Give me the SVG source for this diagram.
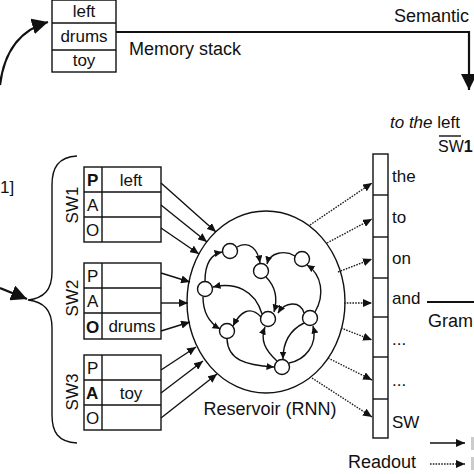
<svg xmlns="http://www.w3.org/2000/svg" width="474" height="474" viewBox="0 0 474 474">
<style>
text{font-family:"Liberation Sans","Open Sans",sans-serif;fill:#111}
.b{fill:none;stroke:#111;stroke-width:1.4}
.ln{fill:none;stroke:#111;stroke-width:1.4}
.big{fill:none;stroke:#111;stroke-width:2.2}
.dot{fill:none;stroke:#222;stroke-width:1.4;stroke-dasharray:1.6 1.2}
.n{fill:#fff;stroke:#111;stroke-width:1.4}
.t16{font-size:17px}
.t17{font-size:18px}
</style>
<defs>
<marker id="ah" markerUnits="userSpaceOnUse" markerWidth="10" markerHeight="8" refX="9" refY="4" orient="auto"><path d="M0,0 L9,4 L0,8 Z" fill="#111"/></marker>
<marker id="as" markerUnits="userSpaceOnUse" markerWidth="8" markerHeight="7" refX="7.5" refY="3.5" orient="auto"><path d="M0,0 L7.5,3.5 L0,7 Z" fill="#111"/></marker>
<marker id="abig" markerUnits="userSpaceOnUse" markerWidth="18" markerHeight="16" refX="16" refY="8" orient="auto"><path d="M0,0 L16,8 L0,16 Z" fill="#111"/></marker>
</defs>

<g id="memory-stack">
<rect class="b" x="52" y="-10" width="64" height="82"/>
<line class="b" x1="52" y1="0" x2="116" y2="0"/>
<line class="b" x1="52" y1="23" x2="116" y2="23"/>
<line class="b" x1="52" y1="50" x2="116" y2="50"/>
<text class="t16" x="84" y="17" text-anchor="middle">left</text>
<text class="t16" x="84" y="42" text-anchor="middle">drums</text>
<text class="t16" x="84" y="66" text-anchor="middle">toy</text>
<text class="t17" x="129" y="55">Memory stack</text>
</g>

<g id="semantic">
<text class="t17" x="394" y="22">Semantic</text>
<text class="t16" x="390" y="128"><tspan font-style="italic">to the</tspan> left</text>
<text x="438" y="152" font-size="16">SW<tspan font-weight="bold">1</tspan></text>
<line class="ln" x1="439" y1="136" x2="461" y2="136" stroke-width="1"/>
</g>

<g id="ref-text">
<text class="t16" x="0" y="193">1]</text>
</g>

<g id="brace">
<path class="ln" d="M77,156 C58,157 52,168 52,185 L52,272 C52,290 44,298 28,300 C44,302 52,310 52,328 L52,415 C52,432 58,442 77,443"/>
</g>

<g id="sw1">
<rect class="b" x="84" y="167" width="77" height="75"/>
<line class="b" x1="102" y1="167" x2="102" y2="242"/>
<line class="b" x1="84" y1="192" x2="161" y2="192"/>
<line class="b" x1="84" y1="217" x2="161" y2="217"/>
<text class="t16" x="87" y="186" font-weight="bold">P</text>
<text class="t16" x="87" y="211">A</text>
<text class="t16" x="86" y="236">O</text>
<text class="t16" x="131" y="186" text-anchor="middle">left</text>
<text class="t16" transform="translate(78,205) rotate(-90)" text-anchor="middle">SW1</text>
</g>

<g id="sw2">
<rect class="b" x="84" y="263" width="77" height="76"/>
<line class="b" x1="102" y1="263" x2="102" y2="339"/>
<line class="b" x1="84" y1="288" x2="161" y2="288"/>
<line class="b" x1="84" y1="313" x2="161" y2="313"/>
<text class="t16" x="87" y="282">P</text>
<text class="t16" x="87" y="307">A</text>
<text class="t16" x="86" y="333" font-weight="bold">O</text>
<text class="t16" x="132" y="332" text-anchor="middle">drums</text>
<text class="t16" transform="translate(78,298) rotate(-90)" text-anchor="middle">SW2</text>
</g>

<g id="sw3">
<rect class="b" x="84" y="355" width="77" height="75"/>
<line class="b" x1="102" y1="355" x2="102" y2="430"/>
<line class="b" x1="84" y1="380" x2="161" y2="380"/>
<line class="b" x1="84" y1="405" x2="161" y2="405"/>
<text class="t16" x="87" y="374">P</text>
<text class="t16" x="86" y="399" font-weight="bold">A</text>
<text class="t16" x="86" y="424">O</text>
<text class="t16" x="131" y="399" text-anchor="middle">toy</text>
<text class="t16" transform="translate(78,392) rotate(-90)" text-anchor="middle">SW3</text>
</g>

<g id="reservoir">
<ellipse class="b" cx="266" cy="302" rx="79" ry="91"/>
<text class="t17" x="270" y="415" text-anchor="middle">Reservoir (RNN)</text>
<circle class="n" cx="230" cy="251" r="7.5"/>
<circle class="n" cx="261" cy="271" r="7.5"/>
<circle class="n" cx="302" cy="259" r="7.5"/>
<circle class="n" cx="205" cy="289" r="7.5"/>
<circle class="n" cx="268" cy="319" r="7.5"/>
<circle class="n" cx="310" cy="318" r="7.5"/>
<circle class="n" cx="227" cy="331" r="7.5"/>
<circle class="n" cx="282" cy="367" r="7.5"/>
</g>

<g id="readout">
<rect class="b" x="373" y="154" width="15" height="284"/>
<line class="b" x1="373" y1="195" x2="388" y2="195"/>
<line class="b" x1="373" y1="237" x2="388" y2="237"/>
<line class="b" x1="373" y1="278" x2="388" y2="278"/>
<line class="b" x1="373" y1="317" x2="388" y2="317"/>
<line class="b" x1="373" y1="357" x2="388" y2="357"/>
<line class="b" x1="373" y1="399" x2="388" y2="399"/>
<text class="t16" x="392" y="182">the</text>
<text class="t16" x="392" y="223">to</text>
<text class="t16" x="392" y="264">on</text>
<text class="t16" x="392" y="304">and</text>
<text class="t16" x="392" y="345">...</text>
<text class="t16" x="392" y="386">...</text>
<text class="t16" x="392" y="428">SW</text>
<text class="t17" x="428" y="327">Gram</text>
<text class="t17" x="348" y="468">Readout</text>
</g>

<g id="legend">
<rect x="471" y="437" width="6" height="13" fill="#ccc"/>
<rect x="471" y="457" width="6" height="13" fill="#ccc"/>
</g>

<g id="connectors">
<path class="big" d="M116,32 L469,32 L469,90" marker-end="url(#abig)"/>
<path class="big" d="M0,85 C4,52 20,30 48,22" marker-end="url(#abig)"/>
<path class="big" d="M0,288 L27,299" marker-end="url(#abig)"/>
<line class="big" x1="427" y1="302" x2="474" y2="302"/>

<line class="ln" x1="161" y1="183" x2="216" y2="232" marker-end="url(#ah)"/>
<line class="ln" x1="161" y1="205" x2="207" y2="242" marker-end="url(#ah)"/>
<line class="ln" x1="161" y1="228" x2="199" y2="254" marker-end="url(#ah)"/>
<line class="ln" x1="161" y1="273" x2="190" y2="282" marker-end="url(#ah)"/>
<line class="ln" x1="161" y1="303" x2="188" y2="303" marker-end="url(#ah)"/>
<line class="ln" x1="161" y1="331" x2="190" y2="322" marker-end="url(#ah)"/>
<line class="ln" x1="161" y1="370" x2="196" y2="347" marker-end="url(#ah)"/>
<line class="ln" x1="161" y1="393" x2="203" y2="361" marker-end="url(#ah)"/>
<line class="ln" x1="161" y1="418" x2="217" y2="374" marker-end="url(#ah)"/>

<line class="dot" x1="310" y1="225" x2="372" y2="183" marker-end="url(#ah)"/>
<line class="dot" x1="327" y1="243" x2="372" y2="219" marker-end="url(#ah)"/>
<line class="dot" x1="338" y1="272" x2="372" y2="259" marker-end="url(#ah)"/>
<line class="dot" x1="344" y1="303" x2="372" y2="303" marker-end="url(#ah)"/>
<line class="dot" x1="341" y1="328" x2="372" y2="340" marker-end="url(#ah)"/>
<line class="dot" x1="328" y1="358" x2="372" y2="380" marker-end="url(#ah)"/>
<line class="dot" x1="312" y1="378" x2="372" y2="417" marker-end="url(#ah)"/>

<line class="ln" x1="430" y1="443" x2="465" y2="443" marker-end="url(#ah)"/>
<line class="dot" x1="430" y1="464" x2="465" y2="464" marker-end="url(#ah)"/>

<path class="ln" d="M205,281 C205,262 212,254 222,252" marker-end="url(#as)"/>
<path class="ln" d="M237,247 C250,240 258,250 260,263" marker-end="url(#as)"/>
<path class="ln" d="M295,256 C285,250 270,252 267,264" marker-end="url(#as)"/>
<path class="ln" d="M315,312 C325,295 322,275 307,265" marker-end="url(#as)"/>
<path class="ln" d="M266,277 C276,287 278,298 274,312" marker-end="url(#as)"/>
<path class="ln" d="M304,313 C300,300 285,302 278,313" marker-end="url(#as)"/>
<path class="ln" d="M262,314 C255,290 235,282 213,287" marker-end="url(#as)"/>
<path class="ln" d="M261,317 C250,305 240,312 233,326" marker-end="url(#as)"/>
<path class="ln" d="M203,297 C203,312 208,322 220,329" marker-end="url(#as)"/>
<path class="ln" d="M227,339 C228,360 245,365 274,367" marker-end="url(#as)"/>
<path class="ln" d="M277,361 C265,350 260,340 265,327" marker-end="url(#as)"/>
<path class="ln" d="M304,323 C290,330 283,342 283,359" marker-end="url(#as)"/>
<path class="ln" d="M289,363 C305,360 318,345 313,326" marker-end="url(#as)"/>
</g>
</svg>
